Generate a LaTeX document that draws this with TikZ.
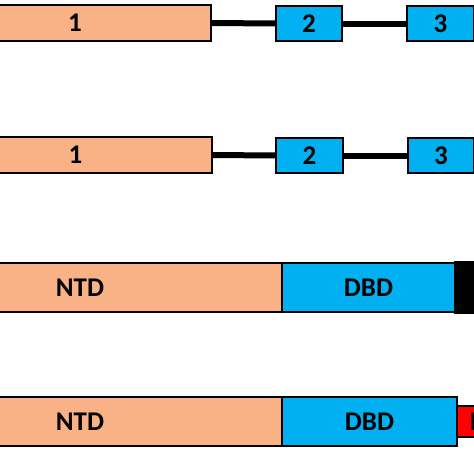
\documentclass[tikz,border=0pt]{standalone}
\usepackage{fontspec}
\setmainfont{Carlito}
\usepackage{xcolor}
\usepackage{tikz}
\usetikzlibrary{positioning}
\definecolor{ntdorange}{RGB}{248,178,133}
\definecolor{dbdblue}{RGB}{0,176,240}
\definecolor{lbdred}{RGB}{255,0,0}

\tikzset{
  regionbox/.style={draw=black, line width=2.4pt, inner sep=0pt, outer sep=0pt,
    font=\fontsize{27}{30}\selectfont\bfseries},
  ntdbox/.style={regionbox, fill=ntdorange},
  dbdbox/.style={regionbox, fill=dbdblue},
  link/.style={line width=6pt, black}
}

\begin{document}
\begin{tikzpicture}[x=1pt,y=-1pt]
			\useasboundingbox (0,0) rectangle (474,474);
			\clip (0,0) rectangle (474,474);
			
			% row 1: exons
			\node[ntdbox, minimum width=272pt, minimum height=36pt] (ex1a) at (75,23) {1};
			\node[dbdbox, minimum width=66pt, minimum height=35pt] (ex2a) at (309,23.5) {2};
			\node[dbdbox, minimum width=67pt, minimum height=35pt] (ex3a) at (440.5,23.5) {3};
			\draw[link] (ex1a.east) -- (ex2a.west);
			\draw[link] (ex2a.east) -- (ex3a.west);
			
			% row 2: exons
			\node[ntdbox, minimum width=273pt, minimum height=36pt] (ex1b) at (75.5,155) {1};
			\node[dbdbox, minimum width=67pt, minimum height=35pt] (ex2b) at (309.5,155.5) {2};
			\node[dbdbox, minimum width=66pt, minimum height=35pt] (ex3b) at (441,155.5) {3};
			\draw[link] (ex1b.east) -- (ex2b.west);
			\draw[link] (ex2b.east) -- (ex3b.west);
			
			% row 3: domains
			\node[ntdbox, minimum width=404pt, minimum height=49pt] (ntdA) at (80,287.5) {NTD};
			\node[dbdbox, minimum width=173pt, minimum height=49pt] (dbdA) at (368.5,287.5) {DBD};
			\node[regionbox, fill=black, minimum width=40pt, minimum height=50pt,
			  anchor=west] (tailA) at (dbdA.east) {};
			
			% row 4: domains
			\node[ntdbox, minimum width=404pt, minimum height=49pt] (ntdB) at (80,421.5) {NTD};
			\node[dbdbox, minimum width=175pt, minimum height=49pt] (dbdB) at (369.5,421.5) {DBD};
			\node[regionbox, fill=lbdred, minimum width=70pt, minimum height=31pt,
			  anchor=west] (lbdB) at (dbdB.east) {LBD};
		\end{tikzpicture}
\end{document}
